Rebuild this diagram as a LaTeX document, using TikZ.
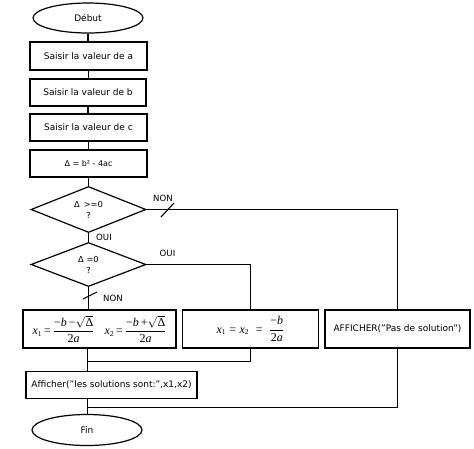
\documentclass[tikz,border=0pt]{standalone}
\usepackage{fontspec}
\setmainfont{DejaVu Sans}
\newfontfamily\tms{Liberation Serif}
\newcommand\mv[1]{\hbox{\tms\itshape #1}}
\newcommand\mr[1]{\hbox{\tms #1}}
\newcommand\msub[1]{\hbox{\tms\fontsize{7.5}{8}\selectfont #1}}
\usetikzlibrary{shapes.geometric}
\begin{document}
\begin{tikzpicture}[x=1pt,y=-1pt,
  box/.style={draw,line width=1.2pt,rectangle,inner sep=0pt,font=\fontsize{9}{10}\selectfont},
  oval/.style={draw,line width=1.2pt,ellipse,inner sep=0pt,font=\fontsize{9}{10}\selectfont},
  test/.style={draw,line width=1.2pt,diamond,inner sep=0pt,align=center,font=\fontsize{8.3}{11}\selectfont},
  mathbox/.style={box,font=\fontsize{12}{14}\selectfont},
  lab/.style={font=\fontsize{8.6}{10}\selectfont,inner sep=0pt},
  link/.style={line width=1.1pt}]
\useasboundingbox (0,0) rectangle (474,448);
\node[oval,minimum width=110,minimum height=30] (debut) at (88,18) {Début};
\node[box,minimum width=117,minimum height=28] (sa) at (88.5,56) {Saisir la valeur de a};
\node[box,minimum width=116,minimum height=27] (sb) at (88,92.5) {Saisir la valeur de b};
\node[box,minimum width=117,minimum height=27] (sc) at (88.5,127.5) {Saisir la valeur de c};
\node[box,minimum width=117,minimum height=27,font=\fontsize{8}{9}\selectfont] (sd) at (88.5,163.5) {Δ = b² - 4ac};
\node[test,minimum width=115,minimum height=45] (d1) at (88.5,209.5) {Δ \,>=0\\?};
\node[test,minimum width=115,minimum height=44] (d2) at (88.5,264.5) {Δ =0\\?};
\node[mathbox,minimum width=153,minimum height=38] (r1) at (99.5,329)
  {$\displaystyle \mv{x}_{\msub{1}}\,\mr{=}\,\frac{\mr{−}\mv{b}\,\mr{−}\sqrt{\mr{Δ}}}{\mr{2}\mv{a}}
   \hskip 10pt \mv{x}_{\msub{2}}\,\mr{=}\,\frac{\mr{−}\mv{b}\,\mr{+}\sqrt{\mr{Δ}}}{\mr{2}\mv{a}}$};
\node[mathbox,minimum width=136,minimum height=38] (r2) at (250.5,329)
  {$\displaystyle \mv{x}_{\msub{1}}\;\mr{=}\;\mv{x}_{\msub{2}}\;\;\mr{=}\;\;\frac{\mr{−}\mv{b}}{\mr{2}\mv{a}}$};
\node[box,minimum width=145,minimum height=38] (r3) at (397.5,329) {AFFICHER("Pas de solution")};
\node[box,minimum width=171,minimum height=27] (aff) at (111.5,385) {Afficher("les solutions sont:",x1,x2)};
\node[oval,minimum width=110,minimum height=31] (fin) at (87,430) {Fin};
\coordinate (xl) at (87.5,0);
\coordinate (j1) at (87.5,361.5);
\coordinate (j2) at (87.5,407.5);
\draw[link] (debut.south) -- (debut.south |- sa.north);
\draw[link] (sa.south) -- (sa.south |- sb.north);
\draw[link] (sb.south) -- (sb.south |- sc.north);
\draw[link] (sc.south) -- (sc.south |- sd.north);
\draw[link] (sd.south) -- (sd.south |- d1.north);
\draw[link] (d1.south) -- (d1.south |- d2.north);
\draw[link] (d1.east) -| (r3.north);
\draw[link] (d2.east) -| (r2.north);
\draw[link] (d2.south) -- (d2.south |- r1.north);
\draw[link] (r1.south -| xl) -- (aff.north -| xl);
\draw[link] (r2.south) |- (j1);
\draw[link] (aff.south -| xl) -- (fin.north -| xl);
\draw[link] (r3.south) |- (j2);
\coordinate (s1a) at (161,217); \coordinate (s1b) at (174,203);
\draw[link] (s1a) -- (s1b);
\coordinate (s2a) at (83,299); \coordinate (s2b) at (97,292);
\draw[link] (s2a) -- (s2b);
\node[lab] (non1) at (163,198.5) {NON};
\node[lab] (oui1) at (104,237.5) {OUI};
\node[lab] (oui2) at (167.5,253) {OUI};
\node[lab] (non2) at (113,298.5) {NON};
\end{tikzpicture}
\end{document}
